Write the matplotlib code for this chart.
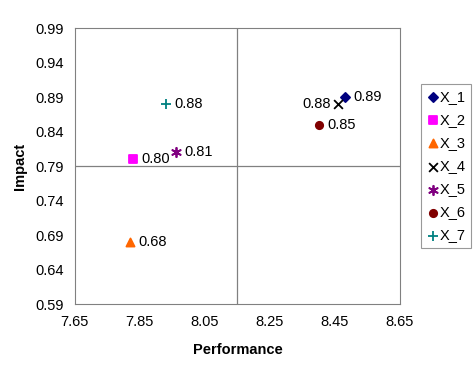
import matplotlib
matplotlib.use('Agg')
import matplotlib.pyplot as plt

plt.rcParams['font.family'] = ['Liberation Sans', 'DejaVu Sans']

names = ['X_1', 'X_2', 'X_3', 'X_4', 'X_5', 'X_6', 'X_7']
performance = [8.48, 7.83, 7.82, 8.46, 7.96, 8.40, 7.93]
impact = [0.89, 0.80, 0.68, 0.88, 0.81, 0.85, 0.88]
markers = ['D', 's', '^', 'x', (6, 2, 0), 'o', '+']
colors = ['#00007f', '#ff00ff', '#ff6600', '#000000', '#800080', '#800000', '#008080']
sizes = [22, 30, 34, 40, 45, 28, 45]

x_ticks = [7.65, 7.85, 8.05, 8.25, 8.45, 8.65]
y_ticks = [0.59, 0.64, 0.69, 0.74, 0.79, 0.84, 0.89, 0.94, 0.99]
x_mid, y_mid = 8.15, 0.79

fig = plt.figure(figsize=(4.74, 3.75), dpi=100)
ax = fig.add_axes([0.158, 0.189, 0.686, 0.736])

for i, name in enumerate(names):
    ax.scatter(performance[i], impact[i], marker=markers[i], color=colors[i],
               s=sizes[i], linewidths=1.3, label=name, zorder=3)
    if name == 'X_4':
        ax.annotate('%.2f' % impact[i], (performance[i], impact[i]),
                    xytext=(-5, 0), textcoords='offset points',
                    ha='right', va='center', fontsize=10.5)
    else:
        ax.annotate('%.2f' % impact[i], (performance[i], impact[i]),
                    xytext=(6, 0), textcoords='offset points',
                    ha='left', va='center', fontsize=10.5)

ax.axvline(x_mid, color='#808080', lw=0.9, zorder=1)
ax.axhline(y_mid, color='#808080', lw=0.9, zorder=1)

ax.set_xlim(7.65, 8.65)
ax.set_ylim(0.59, 0.99)
ax.set_xticks(x_ticks)
ax.set_yticks(y_ticks)
ax.set_xticklabels(['%.2f' % v for v in x_ticks])
ax.set_yticklabels(['%.2f' % v for v in y_ticks])
ax.tick_params(length=0, labelsize=10.5, pad=8)
for s in ax.spines.values():
    s.set_color('#808080')

ax.set_xlabel('Performance', fontsize=10.5, fontweight='bold', labelpad=10)
ax.set_ylabel('Impact', fontsize=10.5, fontweight='bold', labelpad=6)

leg = fig.legend(loc='upper left', bbox_to_anchor=(0.889, 0.775), fontsize=10.5,
                 frameon=True, fancybox=False, handletextpad=0.0,
                 handlelength=0.85, borderpad=0.4, labelspacing=0.62,
                 borderaxespad=0, handleheight=0.7)
leg.get_frame().set_edgecolor('#808080')
leg.get_frame().set_linewidth(0.8)

plt.savefig('out.png')
